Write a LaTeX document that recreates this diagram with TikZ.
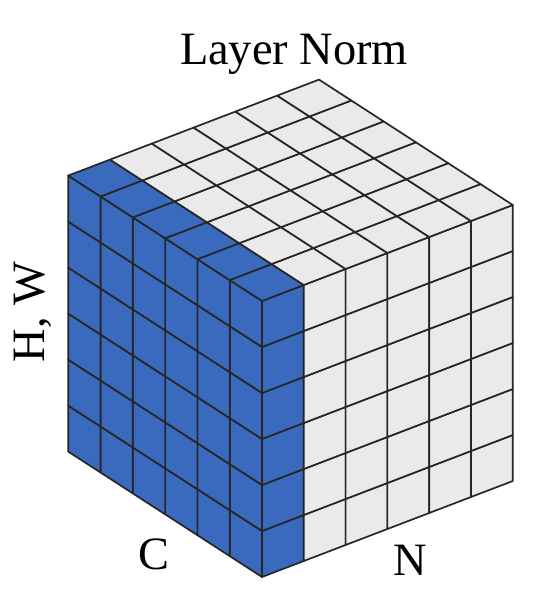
\documentclass[tikz,border=0pt]{standalone}
\usepackage{fontspec}
\setmainfont{Liberation Serif}
\definecolor{slabblue}{RGB}{58,106,190}
\definecolor{cellgray}{RGB}{234,234,234}
\tikzset{
  cell/.style={draw=black!85,line width=1.2pt,line join=round},
  axislabel/.style={font=\fontsize{33}{40}\selectfont,anchor=base,inner sep=0pt}
}
\begin{document}
\begin{tikzpicture}
\useasboundingbox (0,0) rectangle (13.375,15.025);
\begin{scope}[shift={(6.55,0.6)},x={(1.045cm,0.4cm)},y={(0cm,1.15cm)},z={(-0.8075cm,0.5225cm)}]
% N x H face
\foreach \i in {0,...,5} \foreach \j in {0,...,5} {
  \ifnum\i=0 \def\fc{slabblue}\else\def\fc{cellgray}\fi
  \filldraw[cell,fill=\fc] (\i,\j,0) -- ++(1,0,0) -- ++(0,1,0) -- ++(-1,0,0) -- cycle;
}
% C x H face
\foreach \k in {0,...,5} \foreach \j in {0,...,5}
  \filldraw[cell,fill=slabblue] (0,\j,\k) -- ++(0,0,1) -- ++(0,1,0) -- ++(0,0,-1) -- cycle;
% top face
\foreach \i in {0,...,5} \foreach \k in {0,...,5} {
  \ifnum\i=0 \def\fc{slabblue}\else\def\fc{cellgray}\fi
  \filldraw[cell,fill=\fc] (\i,6,\k) -- ++(1,0,0) -- ++(0,0,1) -- ++(-1,0,0) -- cycle;
}
\end{scope}
\node[axislabel] (title) at (7.35,13.4) {Layer Norm};
\node[axislabel] (clabel) at (3.85,0.775) {C};
\node[axislabel] (nlabel) at (10.25,0.65) {N};
\node[axislabel,rotate=90] (hwlabel) at (1.125,7.225) {H, W};
\end{tikzpicture}
\end{document}
